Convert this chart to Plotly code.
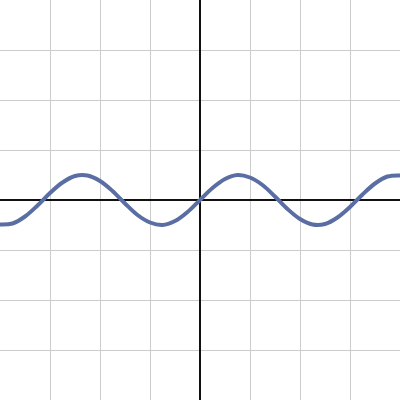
import plotly.graph_objects as go

# points (grid units, one grid cell = 1)
x_vals = [-4, -3.75, -3.5, -3.25, -3, -2.75, -2.5, -2.25, -2, -1.75, -1.5, -1.25, -1, -0.75, -0.5, -0.25,
          0, 0.25, 0.5, 0.75, 1, 1.25, 1.5, 1.75, 2, 2.25, 2.5, 2.75, 3, 3.25, 3.5, 3.75, 4]
y_vals = [-0.49, -0.47, -0.33, -0.11, 0.14, 0.35, 0.48, 0.49, 0.38, 0.18, -0.07, -0.30, -0.45, -0.50, -0.42, -0.24,
          0, 0.24, 0.42, 0.50, 0.45, 0.30, 0.07, -0.18, -0.38, -0.49, -0.48, -0.35, -0.14, 0.11, 0.33, 0.47, 0.49]

fig = go.Figure(go.Scatter(x=x_vals, y=y_vals, mode='lines', line_shape='spline',
                           line=dict(color='#5b6ea3', width=4), hoverinfo='skip'))

axis = dict(range=[-4, 4], dtick=1, showticklabels=False, ticks='',
            showgrid=True, gridcolor='#cccccc', gridwidth=1,
            zeroline=True, zerolinecolor='#111111', zerolinewidth=2,
            showline=False, fixedrange=True)
fig.update_layout(width=400, height=400, margin=dict(l=0, r=0, t=0, b=0),
                  plot_bgcolor='white', paper_bgcolor='white', showlegend=False,
                  xaxis=axis, yaxis=axis)

# drop the page's default body margin so the plot sits at the window edge
fig.write_html("out.html", config={'displayModeBar': False},
               post_script="document.body.style.margin='0';")
